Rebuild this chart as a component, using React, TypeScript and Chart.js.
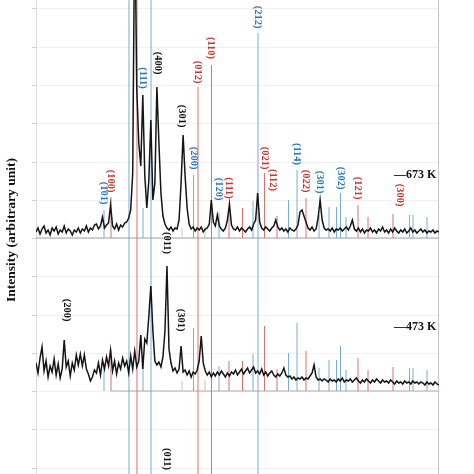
import React, { useEffect, useRef } from "react";
import { Chart, registerables } from "chart.js";

Chart.register(...registerables);

// Scan settings (2θ in degrees)
const TWO_THETA_START = 10;
const TWO_THETA_STEP = 0.35;
const X_MIN = 10;
const X_MAX = 80;

// Vertical frame (arbitrary intensity units); the 673 K scan is stacked above the 473 K scan
const Y_MIN = -83;
const Y_MAX = 391;
const GRID_STEP = 38.25;
const STACK_OFFSET = 153;

// 673 K diffractogram
const TRACE_673K = [
  6, 10, 4, 9, 12, 5, 8, 3, 10, 7, 11, 4, 8, 6, 12, 5, 9, 7, 3, 8,
  6, 10, 5, 9, 7, 12, 6, 10, 8, 13, 14, 9, 12, 21, 10, 13, 15, 33, 12, 9,
  14, 8, 13, 11, 15, 16, 20, 28, 65, 330, 150, 95, 72, 143, 62, 30, 58, 118, 38, 55,
  151, 95, 45, 22, 14, 10, 8, 11, 7, 10, 9, 18, 55, 103, 62, 30, 14, 9, 11, 7,
  10, 8, 11, 6, 9, 10, 14, 38, 16, 12, 23, 12, 9, 7, 10, 18, 34, 13, 9, 8,
  11, 7, 10, 8, 6, 9, 11, 8, 14, 18, 45, 16, 10, 8, 11, 9, 7, 10, 12, 18,
  11, 8, 10, 7, 9, 6, 10, 8, 7, 9, 13, 26, 28, 22, 16, 10, 8, 11, 7, 9,
  20, 38, 18, 10, 8, 9, 7, 10, 6, 9, 8, 10, 7, 9, 11, 8, 12, 18, 9, 7,
  10, 6, 9, 5, 8, 7, 10, 6, 8, 5, 9, 7, 11, 6, 8, 5, 9, 6, 10, 7,
  5, 8, 6, 9, 5, 7, 10, 6, 8, 5, 7, 9, 6, 8, 5, 7, 6, 8, 5, 7,
  6,
];

// 473 K diffractogram
const TRACE_473K = [
  28, 18, 33, 44, 20, 30, 14, 25, 19, 32, 16, 27, 13, 22, 51, 24, 30, 15, 28, 21,
  36, 26, 37, 25, 36, 22, 17, 10, 14, 21, 18, 28, 16, 31, 22, 34, 25, 41, 20, 30,
  17, 28, 22, 33, 25, 30, 18, 35, 22, 40, 24, 30, 56, 22, 52, 48, 75, 105, 60, 30,
  26, 29, 24, 34, 60, 125, 42, 28, 20, 23, 18, 22, 45, 19, 21, 16, 20, 14, 19, 17,
  21, 30, 55, 28, 20, 16, 19, 14, 18, 15, 19, 16, 20, 17, 14, 18, 15, 19, 17, 21,
  16, 19, 22, 17, 20, 23, 18, 21, 24, 18, 20, 17, 22, 16, 19, 15, 18, 20, 16, 14,
  17, 15, 18, 23, 16, 14, 15, 12, 14, 11, 13, 12, 14, 11, 13, 12, 15, 18, 26, 14,
  11, 12, 10, 12, 11, 9, 12, 10, 11, 9, 12, 10, 13, 9, 11, 10, 12, 9, 11, 13,
  10, 8, 11, 9, 12, 10, 8, 11, 9, 12, 10, 8, 11, 9, 10, 8, 11, 9, 7, 10,
  8, 9, 7, 10, 8, 9, 7, 10, 8, 9, 7, 9, 8, 6, 9, 7, 8, 6, 9, 7,
  6,
];

// Reference pattern 1 (blue) — 2θ positions and stick intensities
const BLUE_POS = [21.81, 26.15, 28.59, 29.98, 37.36, 41.79, 47.69, 48.56, 53.86, 55.34, 59.16, 60.89, 62.2, 62.89, 63.85, 74.88, 75.48, 77.92];
const BLUE_INT = [28, 420, 30, 420, 63, 25, 37, 205, 38, 68, 23, 31, 31, 45, 21, 23, 23, 21];

// Reference pattern 2 (red)
const RED_POS = [23.03, 27.54, 38.14, 40.48, 43.52, 45.87, 49.69, 51.86, 56.9, 65.93, 67.67, 72.01];
const RED_INT = [41, 420, 151, 173, 30, 30, 65, 22, 40, 33, 21, 24];

// Minor reflections (grey)
const GREY_POS = [35.36, 39.36];
const GREY_INT = [10, 11];

// Sticks taller than this run through the whole stack
const TALL_LIMIT = 140;

// Miller-index annotations
const HKL_TEXT = [
  "(101)", "(100)", "(111)", "(400)", "(301)", "(200)", "(012)", "(110)", "(120)", "(111)",
  "(212)", "(021)", "(112)", "(114)", "(022)", "(301)", "(302)", "(121)", "(300)",
  "(200)", "(301)", "(011)", "(011)",
];
const HKL_POS = [
  21.81, 23.03, 28.59, 31.19, 35.36, 37.36, 38.14, 40.4, 41.7, 43.52,
  48.56, 49.69, 51.17, 55.34, 56.9, 59.33, 62.98, 65.93, 73.23,
  15.3, 35.19, 32.76, 32.76,
];
const HKL_Y = [
  198, 210, 313, 328, 275, 233, 319, 343, 202, 203,
  374, 233, 211, 237, 210, 209, 213, 203, 196,
  81, 71, 148, -68,
];
const HKL_PHASE = [
  "blue", "red", "blue", "black", "black", "blue", "red", "red", "blue", "red",
  "blue", "red", "red", "blue", "red", "blue", "blue", "red", "red",
  "black", "black", "black", "black",
];

// Temperature tags
const TEMP_TEXT = ["\u2014673 K", "\u2014473 K"];
const TEMP_POS = [72.19, 72.19];
const TEMP_Y = [216, 64];

const COLORS: Record<string, string> = {
  trace: "#151515",
  blueStick: "#79acd6",
  redStick: "#d77272",
  greyStick: "#c4c4c4",
  blue: "#2f78b5",
  red: "#c23b33",
  black: "#111111",
};

type Pt = { x: number; y: number | null };

function stickData(pos: number[], ints: number[], panelBase: number, stackTall: boolean): Pt[] {
  const out: Pt[] = [];
  pos.forEach((x, i) => {
    const h = ints[i];
    if (h > TALL_LIMIT) {
      if (!stackTall) return;
      out.push({ x, y: Y_MIN }, { x, y: panelBase + h }, { x, y: null });
    } else {
      out.push({ x, y: panelBase }, { x, y: panelBase + h }, { x, y: null });
    }
  });
  return out;
}

function traceData(values: number[], offset: number): Pt[] {
  return values.map((v, i) => ({ x: TWO_THETA_START + i * TWO_THETA_STEP, y: v + offset }));
}

const framePlugin = {
  id: "xrdFrame",
  beforeDatasetsDraw(chart: any) {
    const { ctx, chartArea, scales } = chart;
    const { left, right, top, bottom } = chartArea;
    const y = scales.y;
    ctx.save();
    ctx.lineWidth = 1;
    const kMin = Math.ceil(Y_MIN / GRID_STEP);
    const kMax = Math.floor(Y_MAX / GRID_STEP);
    for (let k = kMin; k <= kMax; k++) {
      const py = Math.round(y.getPixelForValue(k * GRID_STEP)) + 0.5;
      ctx.strokeStyle = "#f1f1f1";
      ctx.beginPath();
      ctx.moveTo(left, py);
      ctx.lineTo(right, py);
      ctx.stroke();
      ctx.strokeStyle = "#cfcfcf";
      ctx.beginPath();
      ctx.moveTo(left - 4, py);
      ctx.lineTo(left, py);
      ctx.stroke();
    }
    ctx.strokeStyle = "#dadada";
    ctx.beginPath();
    ctx.moveTo(Math.round(left) + 0.5, top);
    ctx.lineTo(Math.round(left) + 0.5, bottom);
    ctx.stroke();
    ctx.strokeStyle = "#c6c6c6";
    ctx.beginPath();
    ctx.moveTo(Math.round(right) - 0.5, top);
    ctx.lineTo(Math.round(right) - 0.5, bottom);
    ctx.stroke();
    ctx.restore();
  },
  afterDatasetsDraw(chart: any) {
    const { ctx, chartArea, scales } = chart;
    const { top, bottom } = chartArea;
    const xs = scales.x;
    const ys = scales.y;
    ctx.save();
    ctx.textAlign = "center";
    ctx.textBaseline = "middle";
    ctx.font = "bold 10.5px 'Liberation Serif', 'Times New Roman', serif";
    HKL_TEXT.forEach((t, i) => {
      const px = xs.getPixelForValue(HKL_POS[i]);
      const py = ys.getPixelForValue(HKL_Y[i]);
      ctx.save();
      ctx.translate(px, py);
      ctx.rotate(Math.PI / 2);
      ctx.fillStyle = COLORS[HKL_PHASE[i]];
      ctx.fillText(t, 0, 0);
      ctx.restore();
    });

    ctx.font = "bold 12px 'Liberation Serif', 'Times New Roman', serif";
    ctx.textAlign = "left";
    ctx.fillStyle = "#111111";
    TEMP_TEXT.forEach((t, i) => {
      ctx.fillText(t, xs.getPixelForValue(TEMP_POS[i]), ys.getPixelForValue(TEMP_Y[i]));
    });

    ctx.font = "bold 13.5px 'Liberation Serif', 'Times New Roman', serif";
    ctx.textAlign = "center";
    ctx.save();
    ctx.translate(12, (top + bottom) / 2 - 7);
    ctx.rotate(-Math.PI / 2);
    ctx.fillText("Intensity (arbitrary unit)", 0, 0);
    ctx.restore();
    ctx.restore();
  },
};

export default function App() {
  const canvasRef = useRef<HTMLCanvasElement | null>(null);

  useEffect(() => {
    const canvas = canvasRef.current;
    if (!canvas) return;

    const lineStyle = (color: string, width: number) => ({
      borderColor: color,
      borderWidth: width,
      pointRadius: 0,
      pointHoverRadius: 0,
      tension: 0,
      fill: false,
      spanGaps: false,
    });

    const chart = new Chart(canvas, {
      type: "line",
      data: {
        datasets: [
          { label: "673 K", data: traceData(TRACE_673K, STACK_OFFSET), ...lineStyle(COLORS.trace, 1.5) },
          { label: "473 K", data: traceData(TRACE_473K, 0), ...lineStyle(COLORS.trace, 1.5) },
          { label: "blue 673", data: stickData(BLUE_POS, BLUE_INT, STACK_OFFSET, true), ...lineStyle(COLORS.blueStick, 1) },
          { label: "red 673", data: stickData(RED_POS, RED_INT, STACK_OFFSET, true), ...lineStyle(COLORS.redStick, 1) },
          { label: "grey 673", data: stickData(GREY_POS, GREY_INT, STACK_OFFSET, true), ...lineStyle(COLORS.greyStick, 1) },
          { label: "blue 473", data: stickData(BLUE_POS, BLUE_INT, 0, false), ...lineStyle(COLORS.blueStick, 1) },
          { label: "red 473", data: stickData(RED_POS, RED_INT, 0, false), ...lineStyle(COLORS.redStick, 1) },
          { label: "grey 473", data: stickData(GREY_POS, GREY_INT, 0, false), ...lineStyle(COLORS.greyStick, 1) },
          {
            label: "base 673",
            data: [{ x: X_MIN, y: STACK_OFFSET }, { x: X_MAX, y: STACK_OFFSET }],
            ...lineStyle("#a3a3a3", 1),
          },
          {
            label: "base 473",
            data: [{ x: RED_POS[0], y: 0 }, { x: X_MAX, y: 0 }],
            ...lineStyle("#c9a3a3", 1),
          },
        ],
      },
      options: {
        animation: false,
        responsive: false,
        maintainAspectRatio: false,
        devicePixelRatio: 1,
        events: [],
        layout: { padding: { left: 36, right: 35, top: 0, bottom: 0 } },
        plugins: {
          legend: { display: false },
          tooltip: { enabled: false },
          title: { display: false },
        },
        scales: {
          x: { type: "linear", min: X_MIN, max: X_MAX, display: false },
          y: { type: "linear", min: Y_MIN, max: Y_MAX, display: false },
        },
      },
      plugins: [framePlugin],
    } as any);

    return () => chart.destroy();
  }, []);

  return (
    <div style={{ position: "fixed", left: 0, top: 0, width: 474, height: 474, background: "#ffffff" }}>
      <canvas ref={canvasRef} width={474} height={474} style={{ display: "block" }} />
    </div>
  );
}
